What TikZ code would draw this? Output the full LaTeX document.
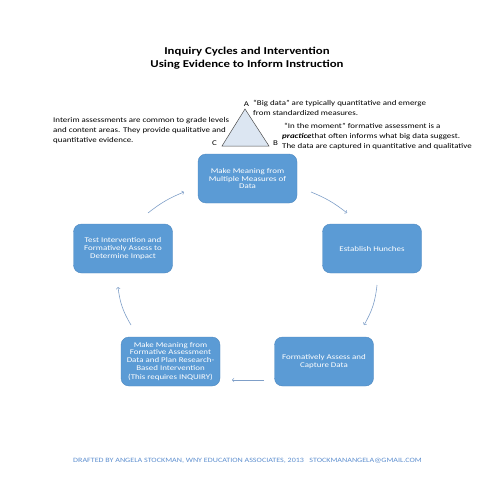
\documentclass[tikz,border=0pt]{standalone}
\usepackage{fontspec}
\setmainfont{Carlito}[FakeStretch=1.22]
\usepackage{tikz}
\usetikzlibrary{positioning}
\definecolor{boxblue}{HTML}{5B9BD5}
\definecolor{boxline}{HTML}{4F89C0}
\definecolor{arrowblue}{HTML}{7F9FC8}
\definecolor{tribg}{HTML}{DCE6F2}
\definecolor{footblue}{HTML}{5E8FCF}
\tikzset{
  stage/.style={draw=boxline,fill=boxblue,rounded corners=8pt,minimum width=99pt,minimum height=49pt,
    text=white,align=center,font=\fontsize{7.3}{7.6}\selectfont,inner sep=1pt},
  flow/.style={->,arrowblue,line width=0.6pt},
  note/.style={align=left,anchor=north west,inner sep=0pt,font=\fontsize{7.3}{9.8}\selectfont},
  corner/.style={inner sep=0pt,font=\fontsize{7.3}{8}\selectfont}
}
\begin{document}
\begin{tikzpicture}[x=1pt,y=-1pt]
                    \useasboundingbox (0,0) rectangle (495,495);
                    \node[align=center,font=\bfseries\fontsize{10.5}{13}\selectfont] (title) at (247,58)
                      {Inquiry Cycles and Intervention\\Using Evidence to Inform Instruction};

                    % triangle and notes
                    \coordinate (A) at (245,109);
                    \coordinate (B) at (269,146);
                    \coordinate (C) at (222,146);
                    \draw[fill=tribg,draw=black!70,line width=0.5pt] (A) -- (B) -- (C) -- cycle;
                    \node[corner] (la) at (246.5,104) {A};
                    \node[corner] (lb) at (275.5,143.5) {B};
                    \node[corner] (lc) at (214.5,143.5) {C};
                    \node[note] (bigdata) at (253,100.5) {``Big data'' are typically quantitative and emerge\\ from standardized measures.};
                    \node[note] (interim) at (53,117.5) {Interim assessments are common to grade levels\\and content areas. They provide qualitative and\\quantitative evidence.};
                    \node[note] (moment) at (282,123) {\ ``In the moment'' formative assessment is a\\\textbf{\textit{practice}}that often informs what big data suggest.\\The data are captured in quantitative and qualitative};

                    % cycle
                    \node[stage] (meaning) at (247.5,178.5) {Make Meaning from\\Multiple Measures of\\Data};
                    \node[stage] (hunch) at (372,248.5) {Establish Hunches};
                    \node[stage] (capture) at (324,361.5) {Formatively Assess and\\Capture Data};
                    \node[stage] (plan) at (170.5,361.5) {Make Meaning from\\Formative Assessment\\Data and Plan Research-\\Based Intervention\\[2pt](This requires INQUIRY)};
                    \node[stage] (test) at (123,248.5) {Test Intervention and\\Formatively Assess to\\Determine Impact};

                    \coordinate (t1) at (148,213);  \coordinate (t2) at (184,192);
                    \coordinate (m1) at (311,192);  \coordinate (m2) at (347,213);
                    \coordinate (h1) at (377,285);  \coordinate (h2) at (364,325);
                    \coordinate (c1) at (264,380);  \coordinate (c2) at (232,380);
                    \coordinate (p1) at (131,325);  \coordinate (p2) at (118,287);
                    \draw[flow] (t1) to[bend left=8] (t2);
                    \draw[flow] (m1) to[bend left=8] (m2);
                    \draw[flow] (h1) to[bend left=12] (h2);
                    \draw[flow] (c1) -- (c2);
                    \draw[flow] (p1) to[bend left=12] (p2);

                    \node[footblue,font=\fontsize{6.6}{7}\selectfont] (footer) at (247.5,461)
                      {DRAFTED BY ANGELA STOCKMAN, WNY EDUCATION ASSOCIATES, 2013\ \ \ STOCKMANANGELA@GMAIL.COM};
                \end{tikzpicture}
\end{document}
